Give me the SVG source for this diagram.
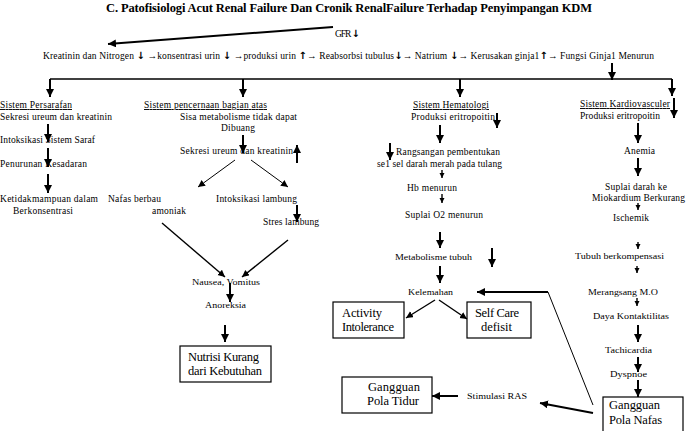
<svg xmlns="http://www.w3.org/2000/svg" width="697" height="431" viewBox="0 0 697 431">
<style>
text{font-family:"Liberation Serif","Times New Roman",serif;fill:#000;font-size:9.5px}
.ti{font-weight:bold;font-size:12.5px}
.u{text-decoration:underline}
.sm{font-size:9px}
.bx{font-size:12.5px}
.ar{font-family:"DejaVu Sans",sans-serif;font-weight:bold;font-size:10px}
rect{fill:#fff;stroke:#000;stroke-width:1.2}
.k{stroke:#000;fill:none}
.th{stroke-width:2}
.md{stroke-width:1.4}
.tn{stroke-width:1}
</style>
<defs>
<marker id="ah" markerUnits="userSpaceOnUse" markerWidth="9" markerHeight="9" refX="8" refY="4" orient="auto"><path d="M0,0 L8,4 L0,8 z" fill="#000"/></marker>
<marker id="am" markerUnits="userSpaceOnUse" markerWidth="8" markerHeight="8" refX="7" refY="3.5" orient="auto"><path d="M0,0 L7,3.5 L0,7 z" fill="#000"/></marker>
<marker id="as" markerUnits="userSpaceOnUse" markerWidth="6" markerHeight="6" refX="5" refY="2.5" orient="auto"><path d="M0,0 L5,2.5 L0,5 z" fill="#000"/></marker>
</defs>
<rect x="0" y="0" width="697" height="431" style="stroke:none;fill:#fff"/>

<g id="title"><text class="ti" x="106" y="12" textLength="486">C.   Patofisiologi Acut Renal Failure Dan Cronik RenalFailure Terhadap Penyimpangan KDM</text></g>
<g id="gfr"><text x="335" y="37" textLength="25">GFR <tspan class="ar">↓</tspan></text></g>
<g id="chain"><text x="43" y="59" textLength="611">Kreatinin dan Nitrogen <tspan class="ar">↓</tspan> →konsentrasi urin <tspan class="ar">↓</tspan> →produksi urin <tspan class="ar">↑</tspan>→ Reabsorbsi tubulus<tspan class="ar">↓</tspan>→ Natrium <tspan class="ar">↓</tspan>→ Kerusakan ginja1<tspan class="ar">↑</tspan>→ Fungsi Ginja1 Menurun</text></g>

<g id="persarafan">
<text class="u" x="0" y="108" textLength="72">Sistem Persarafan</text>
<text x="0" y="120" textLength="112">Sekresi ureum dan kreatinin</text>
<text x="0" y="143" textLength="95">Intoksikasi Sistem Saraf</text>
<text x="0" y="167" textLength="87">Penurunan Kesadaran</text>
<text x="0" y="202" textLength="98">Ketidakmampuan dalam</text>
<text x="13" y="214" textLength="60">Berkonsentrasi</text>
</g>

<g id="pencernaan">
<text class="u" x="144" y="108" textLength="123">Sistem pencernaan bagian atas</text>
<text x="180" y="120" textLength="117">Sisa metabolisme tidak dapat</text>
<text x="221" y="131" textLength="34">Dibuang</text>
<text x="180" y="154" textLength="113">Sekresi ureum dan kreatinin</text>
<text x="108" y="202" textLength="53">Nafas berbau</text>
<text x="152" y="214" textLength="34">amoniak</text>
<text x="216" y="202" textLength="81">Intoksikasi lambung</text>
<text x="263" y="225" textLength="56">Stres lambung</text>
<text class="sm" x="192" y="285" textLength="68" lengthAdjust="spacingAndGlyphs">Nausea, Vomitus</text>
<text class="sm" x="205" y="308" textLength="41" lengthAdjust="spacingAndGlyphs">Anoreksia</text>
</g>
<g id="nutrisi">
<rect x="180" y="346" width="91" height="36"/>
<text class="bx" x="188" y="361" textLength="71">Nutrisi Kurang</text>
<text class="bx" x="188" y="375" textLength="74">dari Kebutuhan</text>
</g>

<g id="hematologi">
<text class="u" x="413" y="108" textLength="76">Sistem Hematologi</text>
<text x="411" y="120" textLength="84">Produksi eritropoitin</text>
<text x="396" y="155" textLength="104">Rangsangan pembentukan</text>
<text x="377" y="167" textLength="125">se1 sel darah merah pada tulang</text>
<text x="407" y="191" textLength="50">Hb menurun</text>
<text x="405" y="218" textLength="78">Suplai O2 menurun</text>
<text class="sm" x="395" y="260" textLength="77" lengthAdjust="spacingAndGlyphs">Metabolisme tubuh</text>
<text class="sm" x="408" y="295" textLength="45" lengthAdjust="spacingAndGlyphs">Kelemahan</text>
</g>
<g id="activity">
<rect x="333" y="302" width="71" height="36"/>
<text class="bx" x="342" y="317" textLength="40">Activity</text>
<text class="bx" x="342" y="331" textLength="52">Intolerance</text>
</g>
<g id="selfcare">
<rect x="467" y="302" width="64" height="36"/>
<text class="bx" x="475" y="317" textLength="44">Self Care</text>
<text class="bx" x="481" y="331" textLength="31">defisit</text>
</g>
<g id="polatidur">
<rect x="342" y="377" width="90" height="36"/>
<text class="bx" x="368" y="391" textLength="52">Gangguan</text>
<text class="bx" x="367" y="405" textLength="52">Pola Tidur</text>
</g>
<g id="ras"><text class="sm" x="467" y="399" textLength="60" lengthAdjust="spacingAndGlyphs">Stimulasi RAS</text></g>

<g id="kardiovaskuler">
<text class="u" x="580" y="107" textLength="90">Sistem Kardiovasculer</text>
<text x="580" y="119" textLength="80">Produksi eritropoitin</text>
<text x="624" y="154" textLength="31">Anemia</text>
<text x="605" y="190" textLength="62">Suplai darah ke</text>
<text x="592" y="201" textLength="93">Miokardium Berkurang</text>
<text x="613" y="221" textLength="36">Ischemik</text>
<text class="sm" x="575" y="259" textLength="89" lengthAdjust="spacingAndGlyphs">Tubuh berkompensasi</text>
<text class="sm" x="588" y="295" textLength="70" lengthAdjust="spacingAndGlyphs">Merangsang M.O</text>
<text class="sm" x="593" y="319" textLength="76" lengthAdjust="spacingAndGlyphs">Daya Kontaktilitas</text>
<text class="sm" x="605" y="353" textLength="47" lengthAdjust="spacingAndGlyphs">Tachicardia</text>
<text class="sm" x="610" y="377" textLength="37" lengthAdjust="spacingAndGlyphs">Dyspnoe</text>
</g>
<g id="polanafas">
<rect x="603" y="397" width="80" height="40"/>
<text class="bx" x="609" y="409" textLength="51">Gangguan</text>
<text class="bx" x="609" y="424" textLength="53">Pola Nafas</text>
</g>

<g id="connectors" class="k">
<line class="k th" x1="333" y1="27" x2="108" y2="44" marker-end="url(#ah)"/>
<line class="k th" x1="612" y1="63" x2="612" y2="80" marker-end="url(#ah)"/>
<line class="k md" x1="50" y1="79" x2="672" y2="79"/>
<line class="k th" x1="50" y1="79" x2="50" y2="97" marker-end="url(#ah)"/>
<line class="k th" x1="243" y1="79" x2="243" y2="97" marker-end="url(#ah)"/>
<line class="k th" x1="460" y1="79" x2="460" y2="97" marker-end="url(#ah)"/>
<line class="k th" x1="672" y1="79" x2="672" y2="96" marker-end="url(#ah)"/>
<line class="k th" x1="674" y1="98" x2="674" y2="118" marker-end="url(#ah)"/>

<line class="k th" x1="48" y1="124" x2="48" y2="142" marker-end="url(#ah)"/>
<line class="k th" x1="48" y1="148" x2="48" y2="167" marker-end="url(#ah)"/>
<line class="k th" x1="48" y1="174" x2="48" y2="193" marker-end="url(#ah)"/>

<line class="k th" x1="243" y1="135" x2="243" y2="153" marker-end="url(#ah)"/>
<line class="k th" x1="297" y1="163" x2="297" y2="145" marker-end="url(#ah)"/>
<line class="k tn" x1="235" y1="160" x2="198" y2="187" marker-end="url(#am)"/>
<line class="k tn" x1="251" y1="160" x2="288" y2="187" marker-end="url(#am)"/>
<line class="k th" x1="297" y1="205" x2="297" y2="222" marker-end="url(#ah)"/>
<line class="k md" x1="162" y1="223" x2="225" y2="277" marker-end="url(#am)"/>
<line class="k md" x1="288" y1="240" x2="242" y2="277" marker-end="url(#am)"/>
<line class="k th" x1="230" y1="283" x2="230" y2="302" marker-end="url(#ah)"/>
<line class="k th" x1="225" y1="325" x2="225" y2="342" marker-end="url(#ah)"/>

<line class="k th" x1="497" y1="113" x2="497" y2="128" marker-end="url(#ah)"/>
<line class="k th" x1="440" y1="125" x2="440" y2="143" marker-end="url(#ah)"/>
<line class="k th" x1="390" y1="143" x2="390" y2="160" marker-end="url(#ah)"/>
<line class="k md" x1="442" y1="170" x2="442" y2="178" marker-end="url(#as)"/>
<line class="k md" x1="442" y1="194" x2="442" y2="203" marker-end="url(#as)"/>
<line class="k th" x1="440" y1="232" x2="440" y2="248" marker-end="url(#ah)"/>
<line class="k th" x1="492" y1="248" x2="492" y2="267" marker-end="url(#ah)"/>
<line class="k th" x1="440" y1="266" x2="440" y2="283" marker-end="url(#ah)"/>
<line class="k md" x1="435" y1="300" x2="406" y2="318" marker-end="url(#am)"/>
<line class="k md" x1="439" y1="300" x2="467" y2="319" marker-end="url(#am)"/>
<line class="k th" x1="548" y1="292" x2="477" y2="292" marker-end="url(#ah)"/>
<line class="k tn" x1="548" y1="292" x2="593" y2="405"/>
<line class="k th" x1="458" y1="396" x2="432" y2="396" marker-end="url(#ah)"/>
<line class="k th" x1="593" y1="413" x2="540" y2="403" marker-end="url(#ah)"/>

<line class="k th" x1="638" y1="123" x2="638" y2="143" marker-end="url(#ah)"/>
<line class="k th" x1="638" y1="158" x2="638" y2="176" marker-end="url(#ah)"/>
<line class="k md" x1="638" y1="203" x2="638" y2="210" marker-end="url(#as)"/>
<line class="k md" x1="638" y1="242" x2="638" y2="249" marker-end="url(#as)"/>
<line class="k md" x1="637" y1="266" x2="637" y2="273" marker-end="url(#as)"/>
<line class="k md" x1="637" y1="298" x2="637" y2="306" marker-end="url(#as)"/>
<line class="k th" x1="638" y1="325" x2="638" y2="342" marker-end="url(#ah)"/>
<line class="k th" x1="638" y1="357" x2="638" y2="372" marker-end="url(#ah)"/>
<line class="k th" x1="638" y1="380" x2="638" y2="397" marker-end="url(#ah)"/>
</g>
</svg>
